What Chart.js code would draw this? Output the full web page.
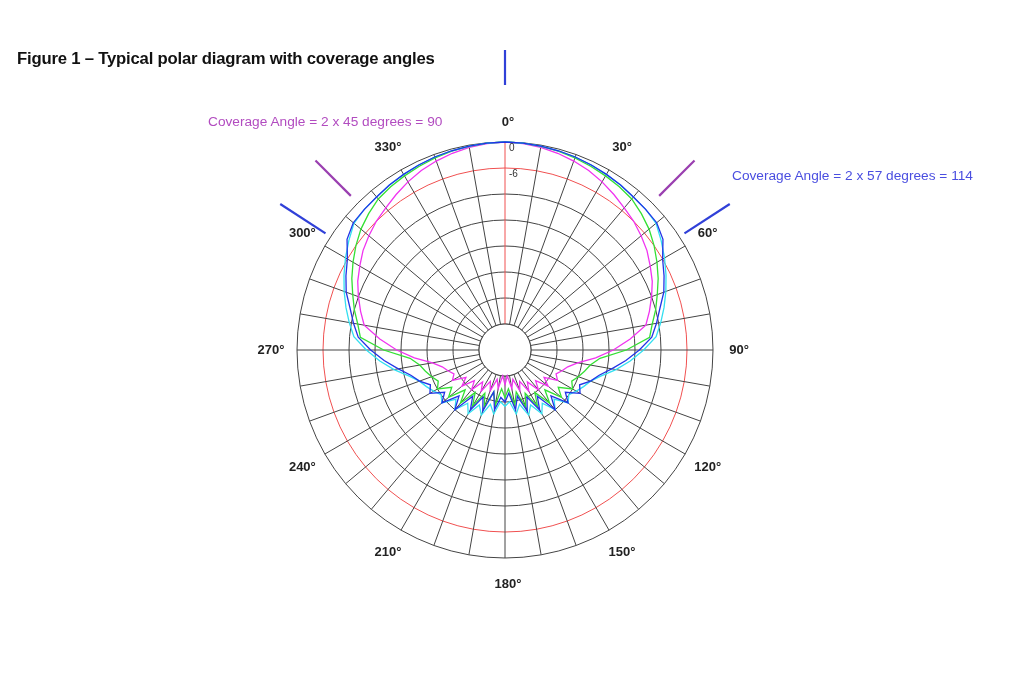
<!DOCTYPE html>
<html><head><meta charset="utf-8">
<script src="https://cdn.jsdelivr.net/npm/chart.js@4"></script>
<style>
body{margin:0;background:#fff;width:1024px;height:683px;overflow:hidden;position:relative;font-family:"Liberation Sans",Arial,sans-serif}
#c{position:absolute;left:0;top:0}
.t{position:absolute;white-space:nowrap}
</style></head><body>
<canvas id="c" width="1024" height="683"></canvas>
<div class="t" style="left:17px;top:49px;font-weight:bold;font-size:16.7px;color:#111;letter-spacing:-0.2px">Figure 1 – Typical polar diagram with coverage angles</div>
<div class="t" style="left:208px;top:114px;font-size:13.7px;color:#b24cc0">Coverage Angle = 2 x 45 degrees = 90</div>
<div class="t" style="left:732px;top:168px;font-size:13.7px;color:#4a4ee0">Coverage Angle = 2 x 57 degrees = 114</div>
<script>
const angles = [];
for (let a = 0; a < 360; a += 5) angles.push(a);
const angleLabels = ["0°","30°","60°","90°","120°","150°","180°","210°","240°","270°","300°","330°"];
const tickValues = [0, -6];

const blue = [0,-0.1,-0.2,-0.4,-0.6,-0.9,-1.2,-1.5,-1.9,-2.1,-2.3,-3.5,-6,-7.5,-9,-11,-12.5,-14,-17,-20,-23,-25.5,-27,-29,-28,-31,-29,-33,-30,-35,-32,-36,-33,-37,-34,-38,-36,
  -37,-34,-38,-33,-36,-32,-35,-30,-33,-29,-31,-28,-29,-27,-25.5,-23,-20,-17,-14,-12.5,-11,-9,-7.5,-6,-3.5,-2.3,-2.1,-1.9,-1.5,-1.2,-0.9,-0.6,-0.4,-0.2,-0.1];
const cyan = [0,-0.1,-0.2,-0.4,-0.6,-0.9,-1.2,-1.5,-1.9,-2.1,-2.5,-4,-5.5,-7,-8.5,-10,-11.5,-13,-16,-19,-22,-25,-27,-28,-29,-30,-29,-32,-30,-33,-31,-34,-32,-35,-33,-36,-35,
  -36,-33,-35,-32,-34,-31,-33,-30,-32,-29,-30,-29,-28,-27,-25,-22,-19,-16,-13,-11.5,-10,-8.5,-7,-5.5,-4,-2.5,-2.1,-1.9,-1.5,-1.2,-0.9,-0.6,-0.4,-0.2,-0.1];
const green = [0,-0.1,-0.3,-0.5,-0.8,-1.2,-1.6,-2,-2.5,-3.5,-4.6,-6,-7.5,-9,-10.6,-12,-13.5,-14.5,-20,-26,-28,-29,-30,-31,-30,-33,-31,-35,-32,-36,-33,-37,-34,-38,-35,-39,-37,
  -39,-35,-38,-34,-37,-33,-36,-32,-35,-31,-33,-30,-31,-30,-29,-28,-26,-20,-14.5,-13.5,-12,-10.6,-9,-7.5,-6,-4.6,-3.5,-2.5,-2,-1.6,-1.2,-0.8,-0.5,-0.3,-0.1];
const magenta = [0,-0.2,-0.5,-1,-1.6,-2.3,-3.2,-4.2,-5.2,-6,-7,-8,-9.3,-10.5,-12,-13.5,-15,-19,-23,-27,-31,-33,-34,-35,-34,-37,-35,-38,-36,-39,-37,-40,-38,-41,-39,-42,-40,
  -42,-39,-41,-38,-40,-37,-39,-36,-38,-35,-37,-34,-35,-34,-33,-31,-27,-23,-19,-15,-13.5,-12,-10.5,-9.3,-8,-7,-6,-5.2,-4.2,-3.2,-2.3,-1.6,-1,-0.5,-0.2];

const CX = 505, CY = 350, R = 208;

function polar(deg, r){ const a = (deg - 90) * Math.PI / 180; return [CX + r*Math.cos(a), CY + r*Math.sin(a)]; }

const deco = {
  id: 'deco',
  beforeDatasetsDraw(chart){
    const s = chart.scales.r, ctx = chart.ctx;
    const hr = s.getDistanceFromCenterForValue(-42);
    ctx.save();
    ctx.beginPath(); ctx.arc(s.xCenter, s.yCenter, hr, 0, Math.PI*2);
    ctx.fillStyle = '#fff'; ctx.fill();
    ctx.strokeStyle = '#444'; ctx.lineWidth = 1; ctx.stroke();
    ctx.restore();
  },
  afterDraw(chart){
    const s = chart.scales.r, ctx = chart.ctx;
    ctx.save();
    ctx.font = '10px "Liberation Sans", Arial, sans-serif';
    ctx.fillStyle = '#333'; ctx.textAlign = 'left'; ctx.textBaseline = 'middle';
    tickValues.forEach(v => {
      const d = s.getDistanceFromCenterForValue(v);
      ctx.fillText(String(v), s.xCenter + 4, s.yCenter - d + 6);
    });
    ctx.font = 'bold 13px "Liberation Sans", Arial, sans-serif';
    ctx.fillStyle = '#222'; ctx.textAlign = 'center';
    angleLabels.forEach((t, i) => {
      const p = s.getPointPosition(i*6, i === 0 ? 228 : 234);
      ctx.fillText(t, p.x + ((i === 0 || i === 6) ? 3 : 0), p.y);
    });
    const seg = (deg, r1, r2, col) => {
      const a = polar(deg, r1), b = polar(deg, r2);
      ctx.beginPath(); ctx.moveTo(a[0], a[1]); ctx.lineTo(b[0], b[1]);
      ctx.strokeStyle = col; ctx.lineWidth = 2.2; ctx.stroke();
    };
    seg(-45, 218, 268, '#9a3fb0'); seg(45, 218, 268, '#9a3fb0');
    seg(-57, 214, 268, '#3040d8'); seg(57, 214, 268, '#3040d8');
    seg(0, 265, 300, '#3040d8');
    ctx.restore();
  }
};

const ds = (label, data, color) => ({label, data, borderColor: color, borderWidth: 1.3, fill: false, pointRadius: 0, tension: 0});

new Chart(document.getElementById('c'), {
  type: 'radar',
  data: { labels: angles.map(a => a + '°'),
    datasets: [ds('blue', blue, '#2233e6'), ds('cyan', cyan, '#33dff0'), ds('green', green, '#33e033'), ds('magenta', magenta, '#f033f0')] },
  options: {
    responsive: false, animation: false,
    plugins: { legend: { display: false }, tooltip: { enabled: false } },
    scales: { r: {
      min: -48, max: 0,
      afterFit(s){ s.xCenter = CX; s.yCenter = CY; s.drawingArea = R; },
      ticks: { stepSize: 6, display: false },
      pointLabels: { display: false },
      grid: { color: c => c.tick && c.tick.value === -6 ? '#f05050' : '#444', lineWidth: 1 },
      angleLines: { color: c => c.index % 2 ? 'rgba(0,0,0,0)' : (c.index === 0 ? '#f05050' : '#444'), lineWidth: 1 }
    } }
  },
  plugins: [deco]
});
</script>
</body></html>
